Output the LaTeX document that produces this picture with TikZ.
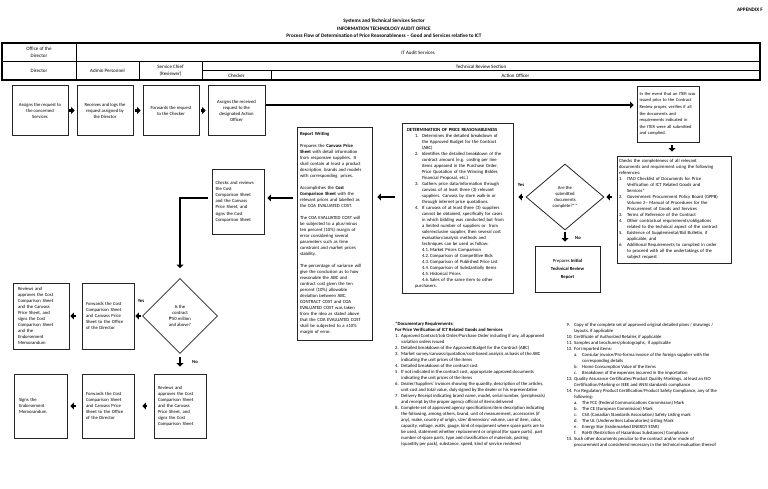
\documentclass[tikz,border=0pt]{standalone}
\usepackage{fontspec}
\setmainfont{Carlito}
\newfontfamily\dejavu{DejaVu Sans}
\usetikzlibrary{arrows.meta,shapes.geometric,shadows}
\newcommand\nm[2]{\makebox[#1][l]{#2}}
\newcommand\ind[1]{\hspace*{#1}}
\begin{document}
\begin{tikzpicture}[x=1pt,y=-1pt,
  every node/.style={font=\fontsize{4.7}{6}\selectfont, inner sep=0pt, text=black},
  box/.style={draw=black!85, line width=0.8pt, inner sep=0pt},
  shbox/.style={box, fill=white, drop shadow={shadow xshift=1.2pt, shadow yshift=-1.2pt, fill=black!45, opacity=1}},
  hcell/.style={draw=black, line width=1pt, inner sep=0pt, font=\fontsize{5}{7}\selectfont, align=center},
  dia/.style={diamond, draw=black!85, line width=0.8pt, inner sep=0pt, align=center},
  arr/.style={draw=black, line width=2.6pt, -{Triangle[length=3.4pt,width=6.8pt]}},
  lbl/.style={font=\fontsize{4.7}{6}\selectfont\bfseries},
  ttl/.style={font=\fontsize{5.2}{6}\selectfont\bfseries},
]
\useasboundingbox[fill=white] (0,0) rectangle (768,489);

% titles
\node[ttl, anchor=east] (app) at (763,10) {APPENDIX F};
\node[ttl] (t1) at (384,21) {Systems and Technical Services Sector};
\node[ttl] (t2) at (384,28.5) {INFORMATION TECHNOLOGY AUDIT OFFICE};
\node[ttl] (t3) at (384,36) {Process Flow of Determination of Price Reasonableness -- Good and Services relative to ICT};

% header table
\node[hcell, minimum width=74, minimum height=19] (hOff) at (39,52.5) {Office of the\\Director};
\node[hcell, minimum width=684, minimum height=19] (hIT) at (418,52.5) {IT Audit Services};
\node[hcell, minimum width=74, minimum height=18] (hDir) at (39,71) {Director};
\node[hcell, minimum width=63, minimum height=18] (hAdm) at (107.5,71) {Admin Personnel};
\node[hcell, minimum width=63, minimum height=18] (hSC) at (170.5,71) {Service Chief\\(Reviewer)};
\node[hcell, minimum width=558, minimum height=9] (hTRS) at (481,66.5) {Technical Review Section};
\node[hcell, minimum width=69, minimum height=9] (hChk) at (236.5,75.5) {Checker};
\node[hcell, minimum width=489, minimum height=9] (hAO) at (515.5,75.5) {Action Officer};
\draw[line width=1.4pt] (2,43) rectangle (760,80);

% row 1
\node[box, minimum width=56, minimum height=50, align=center] (A) at (40,110.5) {Assigns the request to\\the concerned\\Services};
\node[box, minimum width=56, minimum height=50, align=center] (B) at (105,110.5) {Receives and logs the\\request assigned by\\the Director};
\node[box, minimum width=56, minimum height=50, align=center] (C) at (171,110.5) {Forwards the request\\to the Checker};
\node[box, minimum width=57, minimum height=50, align=center] (D) at (236.5,110.5) {Assigns the received\\request to the\\designated Action\\Officer};

% action officer
\node[box, minimum width=62, minimum height=56, text width=57, align=left, font=\fontsize{4.5}{6.6}\selectfont] (ITER) at (668,114) {In the event that an ITER was\\issued prior to the Contract\\Review proper, verifies if all\\the documents and\\requirements indicated in\\the ITER were all submitted\\and complied.};

\node[box, minimum width=114, minimum height=107, text width=110, align=left] (Checks) at (674,209.5) {Checks the completeness of all relevant\\documents and requirement using the following\\references:\\
\nm{8pt}{1.}ITAO Checklist of Documents for Price\\\ind{8pt}Verification of ICT Related Goods and\\\ind{8pt}Services*\\
\nm{8pt}{2.}Government Procurement Policy Board (GPPB)\\\ind{8pt}Volume 2-- Manual of Procedures for the\\\ind{8pt}Procurement of Goods and Services\\
\nm{8pt}{3.}Terms of Reference of the Contract\\
\nm{8pt}{4.}Other contractual requirements/obligations\\\ind{8pt}related to the technical aspect of the contract\\
\nm{8pt}{5.}Existence of Supplemental/Bid Bulletin, if\\\ind{8pt}applicable, and\\
\nm{8pt}{6.}Additional Requirements to complied in order\\\ind{8pt}to proceed with all the undertakings of the\\\ind{8pt}subject request};

\node[dia, minimum width=78, minimum height=66] (dA) at (565,197) {Are the\\submitted\\documents\\complete?**};

\node[box, minimum width=65, minimum height=46, align=center, font=\fontsize{4.7}{8}\selectfont] (Prep) at (567.5,269) {Prepares \textbf{Initial}\\\textbf{Technical Review}\\\textbf{Report}};

\node[shbox, minimum width=111, minimum height=170, text width=101, align=left] (Det) at (457.5,208) {\textbf{DETERMINATION OF PRICE REASONABLENESS}\\
\ind{8pt}\nm{7pt}{1.}Determines the detailed breakdown of\\\ind{15pt}the Approved Budget for the Contract\\\ind{15pt}(ABC)\\
\ind{8pt}\nm{7pt}{2.}Identifies the detailed breakdown of the\\\ind{15pt}contract amount (e.g. costing per line\\\ind{15pt}items appeared in the Purchase Order,\\\ind{15pt}Price Quotation of the Winning Bidder,\\\ind{15pt}Financial Proposal, etc.)\\
\ind{8pt}\nm{7pt}{3.}Gathers price data/information through\\\ind{15pt}canvass of at least three (3) relevant\\\ind{15pt}suppliers. Canvass by store walk-in or\\\ind{15pt}through internet price quotations.\\
\ind{8pt}\nm{7pt}{4.}If canvass of at least three (3) suppliers\\\ind{15pt}cannot be obtained, specifically for cases\\\ind{15pt}in which bidding was conducted but from\\\ind{15pt}a limited number of suppliers or\ \ from\\\ind{15pt}sole/exclusive supplier, then several cost\\\ind{15pt}evaluation/analysis methods and\\\ind{15pt}techniques can be used as follow:\\
\ind{15pt}\nm{8pt}{4.1.}Market Prices Comparison\\
\ind{15pt}\nm{8pt}{4.2.}Comparison of Competitive Bids\\
\ind{15pt}\nm{8pt}{4.3.}Comparison of Published Price List\\
\ind{15pt}\nm{8pt}{4.4.}Comparison of Substantially Items\\
\ind{15pt}\nm{8pt}{4.5.}Historical Prices\\
\ind{15pt}\nm{8pt}{4.6.}Sales of the same item to other\\\ind{8pt}purchasers.};

\node[shbox, minimum width=75, minimum height=213, text width=69, align=left] (Report) at (334.5,233.5) {\textbf{Report Writing}\\[6pt]
Prepares the \textbf{Canvass Price}\\\textbf{Sheet} with detail information\\from responsive suppliers. It\\shall contain at least a product\\description, brands and models\\with corresponding\ \ prices.\\[6pt]
Accomplishes the \textbf{Cost}\\\textbf{Comparison Sheet} with the\\relevant prices and labelled as\\the COA EVALUATED COST.\\[6pt]
The COA EVALUATED COST will\\be subjected to a plus/minus\\ten percent (10\%) margin of\\error considering several\\parameters such as time\\constraint and market prices\\stability.\\[6pt]
The percentage of variance will\\give the conclusion as to how\\reasonable the ABC and\\contract cost given the ten\\percent (10\%) allowable\\deviation between ABC,\\CONTRACT COST and COA\\EVALUATED COST was taken\\from the idea as stated above\\that the COA EVALUATED COST\\shall be subjected to a ±10\%\\margin of error.};

% checker
\node[box, minimum width=52, minimum height=65, text width=45, align=left, font=\fontsize{4.7}{6.2}\selectfont] (Chk) at (238,201.5) {Checks and reviews\\the Cost\\Comparison Sheet\\and the Canvass\\Price Sheet, and\\signs the Cost\\Comparison Sheet};

% decision 2
\node[dia, minimum width=75, minimum height=75] (dB) at (180,316) {Is the\\contract\\{\dejavu\fontsize{4.4}{6}\selectfont ₱}50 million\\and above?};

\node[box, minimum width=52, minimum height=66, text width=44, align=left] (F1) at (108,316) {Forwards the Cost\\Comparison Sheet\\and Canvass Price\\Sheet to the Office\\of the Director\\[6pt]};
\node[box, minimum width=56, minimum height=66, text width=46, align=left] (R1) at (41,316) {Reviews and\\approves the Cost\\Comparison Sheet\\and the Canvass\\Price Sheet, and\\signs the Cost\\Comparison Sheet\\and the\\Endorsement\\Memorandum};

\node[box, minimum width=52, minimum height=64, text width=44, align=left] (R2) at (180,406) {Reviews and\\approves the Cost\\Comparison Sheet\\and the Canvass\\Price Sheet, and\\signs the Cost\\Comparison Sheet};
\node[box, minimum width=52, minimum height=64, text width=44, align=left] (F2) at (108,406) {Forwards the Cost\\Comparison Sheet\\and Canvass Price\\Sheet to the Office\\of the Director};
\node[box, minimum width=53, minimum height=64, text width=43, align=left] (S2) at (40.5,406) {Signs the\\Endorsement\\Memorandum};

% labels
\node[lbl] (yes1) at (521,185) {Yes};
\node[lbl] (no1) at (578,238) {No};
\node[lbl] (yes2) at (141,301) {Yes};
\node[lbl] (no2) at (195,362) {No};

% connectors
\draw[arr, shorten <=1pt, shorten >=2pt] (A) -- (B);
\draw[arr, shorten <=2pt, shorten >=2pt] (B) -- (C);
\draw[arr, shorten <=2pt, shorten >=2pt] (C) -- (D);
\draw[arr, shorten <=1pt, shorten >=3pt] ([yshift=5.5pt]D.east) -- ([yshift=5.5pt]D.east -| ITER.west);
\draw[arr, shorten <=3pt, shorten >=4pt] ([xshift=4pt]ITER.south) -- ([xshift=4pt]ITER.south |- Checks.north);
\draw[arr, shorten <=5pt, shorten >=2pt] (Checks.west |- dA.east) -- (dA.east);
\draw[arr, shorten <=3pt, shorten >=5pt] (dA.west) -- (dA.west -| Det.east);
\draw[arr, shorten <=2pt, shorten >=4pt] (dA.south) -- (dA.south |- Prep.north);
\draw[arr, shorten <=7pt, shorten >=5pt] (Det.west |- dA.west) -- (Report.east |- dA.west);
\draw[arr, shorten <=4pt, shorten >=3pt] ([yshift=3.5pt]Chk.east -| Report.west) -- ([yshift=3.5pt]Chk.east);
\draw[arr, shorten <=4pt, shorten >=10pt] ([yshift=3.5pt]Chk.west) -| (dB.north);
\draw[arr, shorten <=1pt, shorten >=1pt] (dB.west) -- (F1.east);
\draw[arr, shorten <=6pt, shorten >=1pt] (F1) -- (R1);
\draw[arr, shorten <=3.5pt, shorten >=7pt] (dB.south) -- (R2.north);
\draw[arr, shorten <=7pt, shorten >=8pt] (R2) -- (F2);
\draw[arr, shorten <=6pt, shorten >=3pt] (F2) -- (S2);

% footnotes
\node[anchor=north west, align=left] (fn1) at (395,321.5) {\textbf{*Documentary Requirements:}\\
\textbf{For Price Verification of ICT Related Goods and Services}\\
\nm{6pt}{1.}Approved Contract/Job Order/Purchase Order including if any, all approved\\\ind{6pt}variation orders issued\\
\nm{6pt}{2.}Detailed breakdown of the Approved Budget for the Contract (ABC)\\
\nm{6pt}{3.}Market survey/canvass/quotation/cost-based analysis as basis of the ABC\\\ind{6pt}indicating the unit prices of the items\\
\nm{6pt}{4.}Detailed breakdown of the contract cost\\
\nm{6pt}{5.}If not indicated in the contract cost, appropriate approved documents\\\ind{6pt}indicating the unit prices of the items\\
\nm{6pt}{6.}Dealer/Suppliers' invoices showing the quantity, description of the articles,\\\ind{6pt}unit cost and total value, duly signed by the dealer or his representative\\
\nm{6pt}{7.}Delivery Receipt indicating brand name, model, serial number, (peripherals)\\\ind{6pt}and receipt by the proper agency official of items delivered\\
\nm{6pt}{8.}Complete set of approved agency specifications/item description indicating\\\ind{6pt}the following, among others, brand, unit of measurement, accessories (if\\\ind{6pt}any), make, country of origin, size/ dimension/ volume, use of item, color,\\\ind{6pt}capacity, voltage, watts, gauge, kind of equipment where spare parts are to\\\ind{6pt}be used, statement whether replacement or original (for spare parts), part\\\ind{6pt}number of spare parts, type and classification of materials, packing\\\ind{6pt}(quantity per pack), substance, speed, kind of service rendered};

\node[anchor=north west, align=left] (fn2) at (566.5,323.5) {\nm{7.5pt}{9.}Copy of the complete set of approved original detailed plans / drawings /\\\ind{7.5pt}layouts, if applicable\\
\nm{7.5pt}{10.}Certificate of Authorized Retailer, if applicable\\
\nm{7.5pt}{11.}Samples and brochures/photographs,\ \ if applicable\\
\nm{7.5pt}{12.}For imported items:\\
\ind{7.5pt}\nm{8pt}{a.}Consular invoice/Pro-forma invoice of the foreign supplier with the\\\ind{15.5pt}corresponding details\\
\ind{7.5pt}\nm{8pt}{b.}Home Consumption Value of the items\\
\ind{7.5pt}\nm{8pt}{c.}Breakdown of the expenses incurred in the importation\\
\nm{7.5pt}{13.}Quality Assurance Certificates/Product Quality Markings, at least an ISO\\\ind{7.5pt}Certification/Marking or IEEE and ANSI standards compliance\\
\nm{7.5pt}{14.}For Regulatory Product Certification/Product Safety Compliance, any of the\\\ind{7.5pt}following:\\
\ind{7.5pt}\nm{8pt}{a.}The FCC (Federal Communications Commission) Mark\\
\ind{7.5pt}\nm{8pt}{b.}The CE (European Commission) Mark\\
\ind{7.5pt}\nm{8pt}{c.}CSA (Canadian Standards Association) Safety Listing mark\\
\ind{7.5pt}\nm{8pt}{d.}The UL (Underwriters Laboratories) Listing Mark\\
\ind{7.5pt}\nm{8pt}{e.}Energy Star (trademarked ENERGY STAR)\\
\ind{7.5pt}\nm{8pt}{f.}RoHS (Restriction of Hazardous Substances) Compliance\\
\nm{7.5pt}{15.}Such other documents peculiar to the contract and/or mode of\\\ind{7.5pt}procurement and considered necessary in the technical evaluation thereof};
\end{tikzpicture}
\end{document}
